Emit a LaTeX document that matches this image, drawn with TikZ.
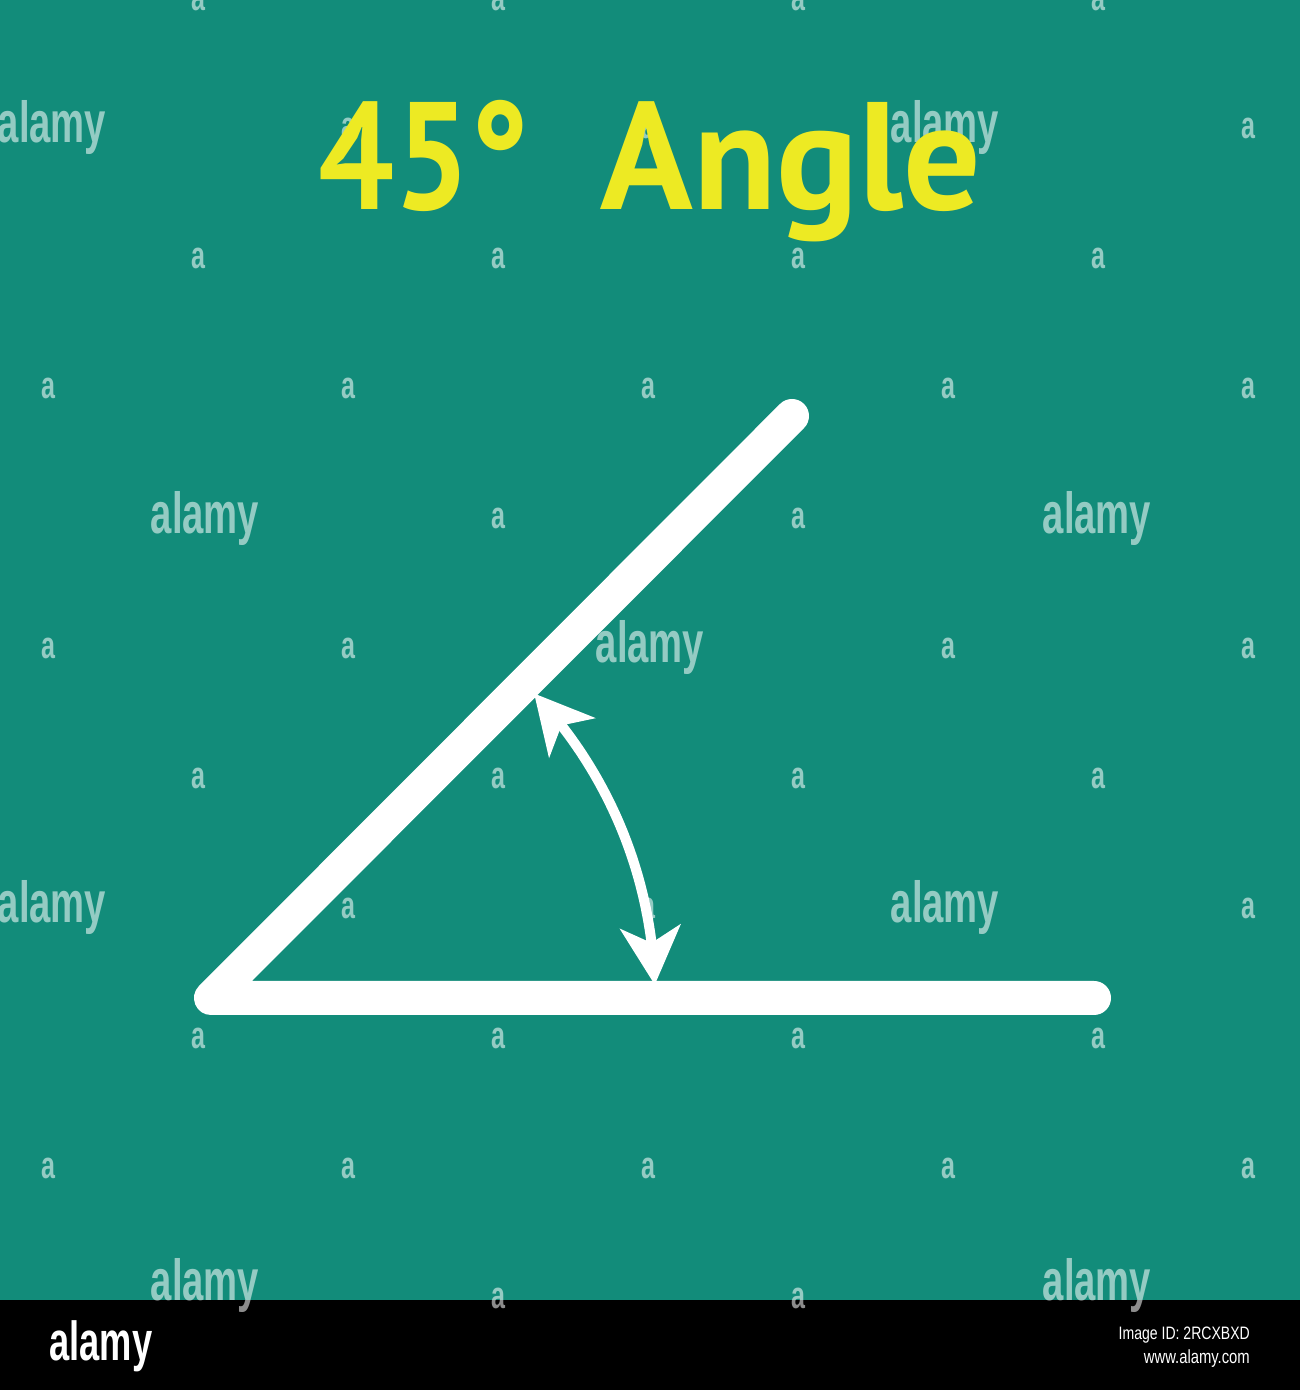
\documentclass[tikz,border=0pt]{standalone}
\usepackage{fontspec}
\setmainfont{PT Sans}
\newfontfamily\wmfont{Liberation Sans}
\usetikzlibrary{arrows.meta,bending,calc}
\definecolor{bggreen}{RGB}{18,140,122}
\definecolor{titleyellow}{RGB}{237,234,35}
\newcommand\wmword[2]{{\wmfont\bfseries\fontsize{#1}{#1}\selectfont\scalebox{0.66}[1]{#2}}}
\begin{document}
\begin{tikzpicture}[x=1pt,y=1pt,
  wm/.style={text=white,text opacity=0.55,inner sep=0pt,anchor=center},
  ray/.style={draw=white,line width=34pt,line cap=round,line join=round},
  anglearc/.style={draw=white,line width=10pt,
    {Stealth[length=58pt,width=60pt,inset=16pt,flex]}-{Stealth[length=58pt,width=60pt,inset=16pt,flex]}}]
\useasboundingbox (0,0) rectangle (1300,1390);
\fill[bggreen] (0,90) rectangle (1300,1390);
\fill[black] (0,0) rectangle (1300,90);
% faint watermarks
\foreach \x/\y [count=\i] in {52/1262,945/1262,205/871,1097/871,650/742,52/482,945/482,205/104,1097/104}
  \node[wm] (wmA\i) at (\x,\y) {\wmword{58}{alamy}};
\foreach \x/\y [count=\i] in {198/1390,498/1390,798/1390,1098/1390,
  348/1262,648/1262,1248/1262,
  198/1132,498/1132,798/1132,1098/1132,
  48/1002,348/1002,648/1002,948/1002,1248/1002,
  498/872,798/872,
  48/742,348/742,948/742,1248/742,
  198/612,498/612,798/612,1098/612,
  348/482,648/482,1248/482,
  198/352,498/352,798/352,1098/352,
  48/222,348/222,648/222,948/222,1248/222,
  498/92,798/92}
  \node[wm] (wmB\i) at (\x,\y) {\wmword{38}{a}};
% title
\node[text=titleyellow,inner sep=0pt,anchor=base,font=\bfseries\fontsize{153}{160}\selectfont] (title) at (650,1180) {\scalebox{0.875}[1]{45°}\hspace{0.47em}\scalebox{1.0}[1]{Angle}};
% angle
\coordinate (V) at (211,392);
\coordinate (H) at (1094,392);
\coordinate (D) at (792,974);
\draw[ray] (D) -- (V) -- (H);
\draw[anglearc] ($(V)+(1.7:444)$) arc[start angle=1.7,end angle=43.3,radius=444];
% bottom bar
\node[text=white,inner sep=0pt,anchor=center] (barlogo) at (101,44) {\wmword{55}{alamy}};
\node[text=white,inner sep=0pt,anchor=base east,font=\wmfont\fontsize{18}{18}\selectfont] (imgid) at (1250,50) {\scalebox{0.78}[1]{Image ID: 2RCXBXD}};
\node[text=white,inner sep=0pt,anchor=base east,font=\wmfont\fontsize{19}{19}\selectfont] (www) at (1250,26) {\scalebox{0.78}[1]{www.alamy.com}};
\end{tikzpicture}
\end{document}
